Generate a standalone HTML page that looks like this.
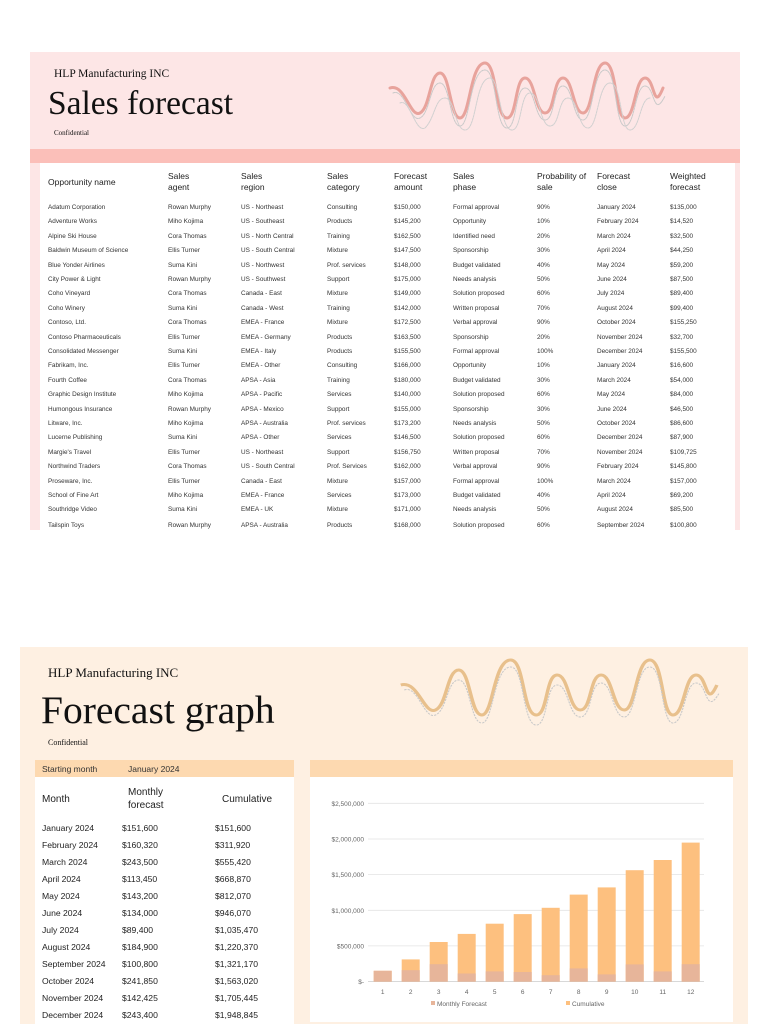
<!DOCTYPE html>
<html><head><meta charset="utf-8"><style>
body{margin:0;width:768px;height:1024px;position:relative;background:#fff;font-family:"Liberation Sans",sans-serif;overflow:hidden}
.a{position:absolute}
.serif{font-family:"Liberation Serif",serif;color:#111}
.r{position:absolute;left:0;height:14px;font-size:6.4px;color:#333;white-space:nowrap}
.r span{position:absolute;top:0}
.c1{left:48px}.c2{left:168px}.c3{left:241px}.c4{left:327px}.c5{left:394px}.c6{left:453px}.c7{left:537px}.c8{left:597px}.c9{left:670px}
.h{font-size:8.5px;color:#222;line-height:11px}
.b{position:absolute;height:13px;font-size:8.6px;color:#222;white-space:nowrap}
.b span{position:absolute;top:0}
.d1{left:42px}.d2{left:122px}.d3{left:215px}
#t{position:absolute;left:0;top:2px;width:768px;height:540px}
</style></head><body>
<!-- top section -->
<div class="a" style="left:30px;top:52px;width:710px;height:478px;background:#fde6e6"></div>
<div class="a" style="left:30px;top:149px;width:710px;height:14px;background:#fbbfb9"></div>
<div class="a" style="left:40px;top:163px;width:695px;height:367px;background:#fff"></div>
<div class="a serif" style="left:54px;top:68px;font-size:11.5px">HLP Manufacturing INC</div>
<div class="a serif" style="left:48px;top:85px;font-size:33.5px">Sales forecast</div>
<div class="a serif" style="left:54px;top:129px;font-size:7px">Confidential</div>
<svg class="a" style="left:385px;top:58px" width="285" height="75" viewBox="0 0 285 75">
<g fill="none" stroke-linecap="round">
<path d="M5,30 C20,25 25,60 35,55 C45,50 45,15 55,15 C65,15 65,60 75,60 C85,60 85,5 100,5 C112,5 110,60 122,60 C132,60 130,20 140,20 C150,20 150,55 160,55 C170,55 168,20 178,20 C188,20 188,55 198,55 C208,55 208,5 220,5 C232,5 230,60 240,60 C250,60 250,20 260,20 C270,20 268,55 278,30" stroke="#e8a39c" stroke-width="3"/>
<path d="M8,35 C20,30 25,65 35,60 C45,55 45,25 55,25 C65,25 65,68 75,68 C85,68 85,12 100,12 C112,12 110,70 122,70 C132,70 130,30 140,30 C150,30 150,62 160,62 C170,62 168,28 178,28 C188,28 188,62 198,62 C208,62 208,12 220,12 C232,12 230,68 240,68 C250,68 250,28 260,28 C270,28 268,62 280,38" stroke="#c9c9c9" stroke-width="1" stroke-dasharray="2,1"/>
<path d="M15,45 C25,40 30,75 40,70 C50,60 50,40 60,40 C70,40 70,72 80,72 C92,72 90,20 105,20 C115,20 115,72 127,72 C137,72 135,35 145,35 C155,35 155,68 165,68 C175,68 173,40 183,40 C193,40 193,70 203,70 C213,70 213,25 225,25 C237,25 235,72 245,72 C255,72 255,40 265,40" stroke="#d0d0d0" stroke-width="1" stroke-dasharray="2,1"/>
</g></svg>
<div id="t">
<div class="r h" style="top:169px;width:768px;height:24px">
<span class="c1" style="top:6px">Opportunity name</span><span class="c2">Sales<br>agent</span><span class="c3">Sales<br>region</span><span class="c4">Sales<br>category</span><span class="c5">Forecast<br>amount</span><span class="c6">Sales<br>phase</span><span class="c7">Probability of<br>sale</span><span class="c8">Forecast<br>close</span><span class="c9">Weighted<br>forecast</span></div>
<div class="r" style="top:202px"><span class="c1">Adatum Corporation</span><span class="c2">Rowan Murphy</span><span class="c3">US - Northeast</span><span class="c4">Consulting</span><span class="c5">$150,000</span><span class="c6">Formal approval</span><span class="c7">90%</span><span class="c8">January 2024</span><span class="c9">$135,000</span></div>
<div class="r" style="top:216.4px"><span class="c1">Adventure Works</span><span class="c2">Miho Kojima</span><span class="c3">US - Southeast</span><span class="c4">Products</span><span class="c5">$145,200</span><span class="c6">Opportunity</span><span class="c7">10%</span><span class="c8">February 2024</span><span class="c9">$14,520</span></div>
<div class="r" style="top:230.8px"><span class="c1">Alpine Ski House</span><span class="c2">Cora Thomas</span><span class="c3">US - North Central</span><span class="c4">Training</span><span class="c5">$162,500</span><span class="c6">Identified need</span><span class="c7">20%</span><span class="c8">March 2024</span><span class="c9">$32,500</span></div>
<div class="r" style="top:245.2px"><span class="c1">Baldwin Museum of Science</span><span class="c2">Ellis Turner</span><span class="c3">US - South Central</span><span class="c4">Mixture</span><span class="c5">$147,500</span><span class="c6">Sponsorship</span><span class="c7">30%</span><span class="c8">April 2024</span><span class="c9">$44,250</span></div>
<div class="r" style="top:259.6px"><span class="c1">Blue Yonder Airlines</span><span class="c2">Suma Kini</span><span class="c3">US - Northwest</span><span class="c4">Prof. services</span><span class="c5">$148,000</span><span class="c6">Budget validated</span><span class="c7">40%</span><span class="c8">May 2024</span><span class="c9">$59,200</span></div>
<div class="r" style="top:274px"><span class="c1">City Power &amp; Light</span><span class="c2">Rowan Murphy</span><span class="c3">US - Southwest</span><span class="c4">Support</span><span class="c5">$175,000</span><span class="c6">Needs analysis</span><span class="c7">50%</span><span class="c8">June 2024</span><span class="c9">$87,500</span></div>
<div class="r" style="top:288.4px"><span class="c1">Coho Vineyard</span><span class="c2">Cora Thomas</span><span class="c3">Canada - East</span><span class="c4">Mixture</span><span class="c5">$149,000</span><span class="c6">Solution proposed</span><span class="c7">60%</span><span class="c8">July 2024</span><span class="c9">$89,400</span></div>
<div class="r" style="top:302.8px"><span class="c1">Coho Winery</span><span class="c2">Suma Kini</span><span class="c3">Canada - West</span><span class="c4">Training</span><span class="c5">$142,000</span><span class="c6">Written proposal</span><span class="c7">70%</span><span class="c8">August 2024</span><span class="c9">$99,400</span></div>
<div class="r" style="top:317.2px"><span class="c1">Contoso, Ltd.</span><span class="c2">Cora Thomas</span><span class="c3">EMEA - France</span><span class="c4">Mixture</span><span class="c5">$172,500</span><span class="c6">Verbal approval</span><span class="c7">90%</span><span class="c8">October 2024</span><span class="c9">$155,250</span></div>
<div class="r" style="top:331.6px"><span class="c1">Contoso Pharmaceuticals</span><span class="c2">Ellis Turner</span><span class="c3">EMEA - Germany</span><span class="c4">Products</span><span class="c5">$163,500</span><span class="c6">Sponsorship</span><span class="c7">20%</span><span class="c8">November 2024</span><span class="c9">$32,700</span></div>
<div class="r" style="top:346px"><span class="c1">Consolidated Messenger</span><span class="c2">Suma Kini</span><span class="c3">EMEA - Italy</span><span class="c4">Products</span><span class="c5">$155,500</span><span class="c6">Formal approval</span><span class="c7">100%</span><span class="c8">December 2024</span><span class="c9">$155,500</span></div>
<div class="r" style="top:360.4px"><span class="c1">Fabrikam, Inc.</span><span class="c2">Ellis Turner</span><span class="c3">EMEA - Other</span><span class="c4">Consulting</span><span class="c5">$166,000</span><span class="c6">Opportunity</span><span class="c7">10%</span><span class="c8">January 2024</span><span class="c9">$16,600</span></div>
<div class="r" style="top:374.8px"><span class="c1">Fourth Coffee</span><span class="c2">Cora Thomas</span><span class="c3">APSA - Asia</span><span class="c4">Training</span><span class="c5">$180,000</span><span class="c6">Budget validated</span><span class="c7">30%</span><span class="c8">March 2024</span><span class="c9">$54,000</span></div>
<div class="r" style="top:389.2px"><span class="c1">Graphic Design Institute</span><span class="c2">Miho Kojima</span><span class="c3">APSA - Pacific</span><span class="c4">Services</span><span class="c5">$140,000</span><span class="c6">Solution proposed</span><span class="c7">60%</span><span class="c8">May 2024</span><span class="c9">$84,000</span></div>
<div class="r" style="top:403.6px"><span class="c1">Humongous Insurance</span><span class="c2">Rowan Murphy</span><span class="c3">APSA - Mexico</span><span class="c4">Support</span><span class="c5">$155,000</span><span class="c6">Sponsorship</span><span class="c7">30%</span><span class="c8">June 2024</span><span class="c9">$46,500</span></div>
<div class="r" style="top:418px"><span class="c1">Litware, Inc.</span><span class="c2">Miho Kojima</span><span class="c3">APSA - Australia</span><span class="c4">Prof. services</span><span class="c5">$173,200</span><span class="c6">Needs analysis</span><span class="c7">50%</span><span class="c8">October 2024</span><span class="c9">$86,600</span></div>
<div class="r" style="top:432.4px"><span class="c1">Lucerne Publishing</span><span class="c2">Suma Kini</span><span class="c3">APSA - Other</span><span class="c4">Services</span><span class="c5">$146,500</span><span class="c6">Solution proposed</span><span class="c7">60%</span><span class="c8">December 2024</span><span class="c9">$87,900</span></div>
<div class="r" style="top:446.8px"><span class="c1">Margie's Travel</span><span class="c2">Ellis Turner</span><span class="c3">US - Northeast</span><span class="c4">Support</span><span class="c5">$156,750</span><span class="c6">Written proposal</span><span class="c7">70%</span><span class="c8">November 2024</span><span class="c9">$109,725</span></div>
<div class="r" style="top:461.2px"><span class="c1">Northwind Traders</span><span class="c2">Cora Thomas</span><span class="c3">US - South Central</span><span class="c4">Prof. Services</span><span class="c5">$162,000</span><span class="c6">Verbal approval</span><span class="c7">90%</span><span class="c8">February 2024</span><span class="c9">$145,800</span></div>
<div class="r" style="top:475.6px"><span class="c1">Proseware, Inc.</span><span class="c2">Ellis Turner</span><span class="c3">Canada - East</span><span class="c4">Mixture</span><span class="c5">$157,000</span><span class="c6">Formal approval</span><span class="c7">100%</span><span class="c8">March 2024</span><span class="c9">$157,000</span></div>
<div class="r" style="top:490px"><span class="c1">School of Fine Art</span><span class="c2">Miho Kojima</span><span class="c3">EMEA - France</span><span class="c4">Services</span><span class="c5">$173,000</span><span class="c6">Budget validated</span><span class="c7">40%</span><span class="c8">April 2024</span><span class="c9">$69,200</span></div>
<div class="r" style="top:504.4px"><span class="c1">Southridge Video</span><span class="c2">Suma Kini</span><span class="c3">EMEA - UK</span><span class="c4">Mixture</span><span class="c5">$171,000</span><span class="c6">Needs analysis</span><span class="c7">50%</span><span class="c8">August 2024</span><span class="c9">$85,500</span></div>
<div class="r" style="top:519.5px"><span class="c1">Tailspin Toys</span><span class="c2">Rowan Murphy</span><span class="c3">APSA - Australia</span><span class="c4">Products</span><span class="c5">$168,000</span><span class="c6">Solution proposed</span><span class="c7">60%</span><span class="c8">September 2024</span><span class="c9">$100,800</span></div>
</div>

<!-- bottom section -->
<div class="a" style="left:20px;top:647px;width:728px;height:377px;background:#fef0e2"></div>
<div class="a" style="left:35px;top:760px;width:259px;height:17px;background:#fdd9b0"></div>
<div class="a" style="left:35px;top:777px;width:259px;height:247px;background:#fff"></div>
<div class="a" style="left:310px;top:760px;width:423px;height:17px;background:#fdd9b0"></div>
<div class="a" style="left:310px;top:777px;width:423px;height:245px;background:#fff"></div>
<div class="a serif" style="left:48px;top:665px;font-size:13px">HLP Manufacturing INC</div>
<div class="a serif" style="left:41px;top:687px;font-size:39.5px">Forecast graph</div>
<div class="a serif" style="left:48px;top:738px;font-size:8px">Confidential</div>
<svg class="a" style="left:395px;top:655px" width="330" height="75" viewBox="0 0 285 75" preserveAspectRatio="none">
<g fill="none">
<path d="M5,30 C20,25 25,60 35,55 C45,50 45,15 55,15 C65,15 65,60 75,60 C85,60 85,5 100,5 C112,5 110,60 122,60 C132,60 130,20 140,20 C150,20 150,55 160,55 C170,55 168,20 178,20 C188,20 188,55 198,55 C208,55 208,5 220,5 C232,5 230,60 240,60 C250,60 250,20 260,20 C270,20 268,55 278,30" stroke="#e8c08c" stroke-width="3"/>
<path d="M8,35 C20,30 25,65 35,60 C45,55 45,25 55,25 C65,25 65,68 75,68 C85,68 85,12 100,12 C112,12 110,70 122,70 C132,70 130,30 140,30 C150,30 150,62 160,62 C170,62 168,28 178,28 C188,28 188,62 198,62 C208,62 208,12 220,12 C232,12 230,68 240,68 C250,68 250,28 260,28 C270,28 268,62 280,38" stroke="#c9c9c9" stroke-width="1" stroke-dasharray="2,1"/>
</g></svg>
<div class="a" style="left:42px;top:764px;font-size:8.5px;color:#333">Starting month</div>
<div class="a" style="left:128px;top:764px;font-size:8.5px;color:#333">January 2024</div>
<div class="b" style="top:786px;width:300px;height:30px;font-size:10px;line-height:13px"><span class="d1" style="top:7px">Month</span><span style="left:128px">Monthly<br>forecast</span><span style="left:222px;top:7px">Cumulative</span></div>
<div class="b" style="top:823px"><span class="d1">January 2024</span><span class="d2">$151,600</span><span class="d3">$151,600</span></div>
<div class="b" style="top:840px"><span class="d1">February 2024</span><span class="d2">$160,320</span><span class="d3">$311,920</span></div>
<div class="b" style="top:857px"><span class="d1">March 2024</span><span class="d2">$243,500</span><span class="d3">$555,420</span></div>
<div class="b" style="top:874px"><span class="d1">April 2024</span><span class="d2">$113,450</span><span class="d3">$668,870</span></div>
<div class="b" style="top:891px"><span class="d1">May 2024</span><span class="d2">$143,200</span><span class="d3">$812,070</span></div>
<div class="b" style="top:908px"><span class="d1">June 2024</span><span class="d2">$134,000</span><span class="d3">$946,070</span></div>
<div class="b" style="top:925px"><span class="d1">July 2024</span><span class="d2">$89,400</span><span class="d3">$1,035,470</span></div>
<div class="b" style="top:942px"><span class="d1">August 2024</span><span class="d2">$184,900</span><span class="d3">$1,220,370</span></div>
<div class="b" style="top:959px"><span class="d1">September 2024</span><span class="d2">$100,800</span><span class="d3">$1,321,170</span></div>
<div class="b" style="top:976px"><span class="d1">October 2024</span><span class="d2">$241,850</span><span class="d3">$1,563,020</span></div>
<div class="b" style="top:993px"><span class="d1">November 2024</span><span class="d2">$142,425</span><span class="d3">$1,705,445</span></div>
<div class="b" style="top:1010px"><span class="d1">December 2024</span><span class="d2">$243,400</span><span class="d3">$1,948,845</span></div>

<svg class="a" style="left:0;top:0" width="768" height="1024" font-family="Liberation Sans, sans-serif">
<g stroke="#e3e3e3" stroke-width="0.8">
<line x1="368" x2="704" y1="803.3" y2="803.3"/><line x1="368" x2="704" y1="839" y2="839"/><line x1="368" x2="704" y1="874.6" y2="874.6"/><line x1="368" x2="704" y1="910.3" y2="910.3"/><line x1="368" x2="704" y1="945.9" y2="945.9"/><line x1="368" x2="704" y1="981.6" y2="981.6" stroke="#ccc"/>
</g>
<g font-size="6.5" fill="#666" text-anchor="end">
<text x="364" y="806">$2,500,000</text><text x="364" y="841.5">$2,000,000</text><text x="364" y="877">$1,500,000</text><text x="364" y="913">$1,000,000</text><text x="364" y="948.5">$500,000</text><text x="364" y="984">$-</text>
</g>
<g fill="#fdc07f">
<rect x="373.7" y="970.8" width="18" height="10.8"/><rect x="401.7" y="959.4" width="18" height="22.2"/><rect x="429.7" y="942" width="18" height="39.6"/><rect x="457.7" y="933.9" width="18" height="47.7"/><rect x="485.7" y="923.7" width="18" height="57.9"/><rect x="513.7" y="914.1" width="18" height="67.5"/><rect x="541.7" y="907.8" width="18" height="73.8"/><rect x="569.7" y="894.6" width="18" height="87"/><rect x="597.7" y="887.4" width="18" height="94.2"/><rect x="625.7" y="870.2" width="18" height="111.4"/><rect x="653.7" y="860" width="18" height="121.6"/><rect x="681.7" y="842.6" width="18" height="139"/>
</g>
<g fill="#e7b59a">
<rect x="373.7" y="970.8" width="18" height="10.8"/><rect x="401.7" y="970.2" width="18" height="11.4"/><rect x="429.7" y="964.2" width="18" height="17.4"/><rect x="457.7" y="973.5" width="18" height="8.1"/><rect x="485.7" y="971.4" width="18" height="10.2"/><rect x="513.7" y="972" width="18" height="9.6"/><rect x="541.7" y="975.2" width="18" height="6.4"/><rect x="569.7" y="968.4" width="18" height="13.2"/><rect x="597.7" y="974.4" width="18" height="7.2"/><rect x="625.7" y="964.4" width="18" height="17.2"/><rect x="653.7" y="971.4" width="18" height="10.2"/><rect x="681.7" y="964.2" width="18" height="17.4"/>
</g>
<g font-size="6.5" fill="#666" text-anchor="middle">
<text x="382.7" y="994">1</text><text x="410.7" y="994">2</text><text x="438.7" y="994">3</text><text x="466.7" y="994">4</text><text x="494.7" y="994">5</text><text x="522.7" y="994">6</text><text x="550.7" y="994">7</text><text x="578.7" y="994">8</text><text x="606.7" y="994">9</text><text x="634.7" y="994">10</text><text x="662.7" y="994">11</text><text x="690.7" y="994">12</text>
</g>
<rect x="431" y="1001" width="4" height="4" fill="#e7b59a"/><text x="437" y="1006" font-size="6.5" fill="#666">Monthly Forecast</text>
<rect x="566" y="1001" width="4" height="4" fill="#fdc07f"/><text x="572" y="1006" font-size="6.5" fill="#666">Cumulative</text>
</svg>
</body></html>
